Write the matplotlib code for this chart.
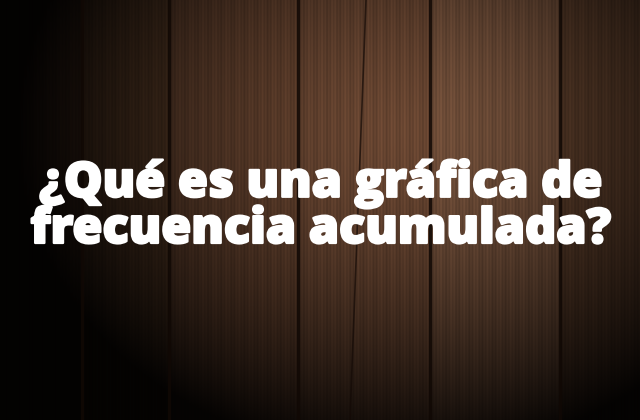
import numpy as np
import matplotlib.pyplot as plt
import matplotlib.patheffects as pe

# plank seams (pixel x)
plank_edges = [0, 82, 169, 298, 430, 560, 640]
plank_colors = ['#3a2519', '#48301f', '#553827', '#573a29', '#5f4230', '#4c3323']
crack_x = [(350, 420), (366, 0)]  # slanted crack inside the 4th plank (x, y)

title_lines = ['¿Qué es una gráfica de', 'frecuencia acumulada?']

W, H = 640, 420
fig = plt.figure(figsize=(6.4, 4.2), dpi=100)
ax = fig.add_axes([0, 0, 1, 1])
ax.set_xlim(0, W)
ax.set_ylim(H, 0)
ax.axis('off')

# planks
img = np.zeros((H, W, 3))
for i in range(len(plank_colors)):
    x0, x1 = plank_edges[i], plank_edges[i + 1]
    c = np.array([int(plank_colors[i][k:k + 2], 16) for k in (1, 3, 5)]) / 255
    img[:, x0:x1] = c

# fine vertical grain
xs = np.arange(W)
grain = 1 + 0.07 * np.sin(xs * 1.9) + 0.05 * np.sin(xs * 0.53 + 1.0)
img = img * grain[None, :, None]

# vignette, lit from upper middle-right
yy, xx = np.mgrid[0:H, 0:W]
d = np.sqrt(((xx - 400) / 340.0) ** 2 + ((yy - 130) / 290.0) ** 2)
light = np.clip(1.2 - 0.95 * d ** 1.5, 0.06, 1.2)
img = np.clip(img * light[..., None], 0, 1)
ax.imshow(img, extent=(0, W, H, 0), aspect='auto', zorder=0)

for x in plank_edges[1:-1]:
    ax.plot([x, x], [0, H], color='#100804', lw=2.4, alpha=0.85, zorder=1)
ax.plot([p[0] for p in crack_x], [p[1] for p in crack_x], color='#140a06', lw=1.2, alpha=0.7, zorder=1)

ax.text(W / 2 + 1, 243, '\n'.join(title_lines), color='white', fontsize=35,
        fontweight='heavy', family=['Open Sans', 'DejaVu Sans'], ha='center',
        va='baseline', ma='center', linespacing=0.9, zorder=3,
        path_effects=[pe.withStroke(linewidth=1.6, foreground='white')])

fig.savefig('out.png', dpi=100)
